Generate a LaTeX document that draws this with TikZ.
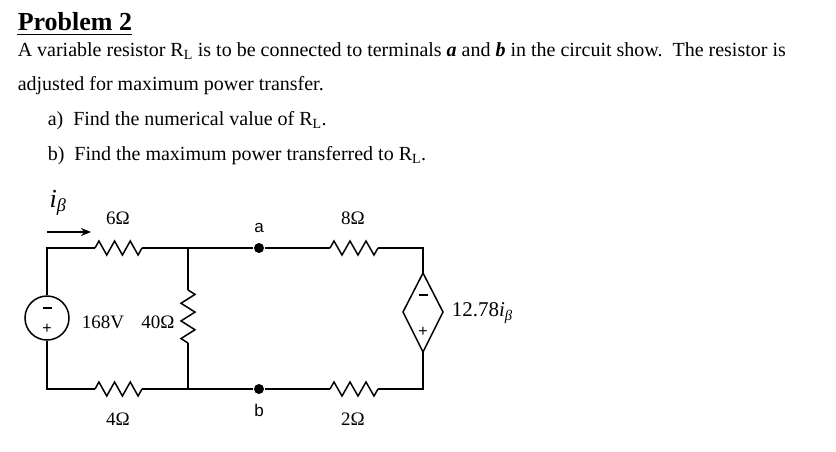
\documentclass[tikz,border=0pt]{standalone}
\usepackage{fontspec}
\setmainfont{Liberation Serif}
\newfontfamily\arialf{Liberation Sans}
\usetikzlibrary{arrows.meta}
\newcommand\hresz[3]{% x1 x2 y
 \draw[line join=miter] (#1,#3) \foreach \k/\s in {1/-1,3/1,5/-1,7/1,9/-1,11/1} {-- ({#1+(#2-#1)*\k/12},{#3+7*\s})} -- (#2,#3);}
\newcommand\vresz[3]{% y1 y2 x
 \draw[line join=miter] (#3,#1) \foreach \k/\s in {1/1,3/-1,5/1,7/-1,9/1,11/-1} {-- ({#3+7*\s},{#1+(#2-#1)*\k/12})} -- (#3,#2);}
\newcommand\ib{\textit{i}\textsubscript{\textit{β}}}
\begin{document}
\begin{tikzpicture}[x=1pt,y=-1pt,line width=1.5pt,
 txt/.style={anchor=base west,inner sep=0pt,font=\fontsize{20}{22}\selectfont},
 lbl/.style={inner sep=0pt,font=\fontsize{19}{22}\selectfont},
 sgn/.style={inner sep=0pt,font=\fontsize{16}{18}\selectfont\arialf},
 term/.style={circle,fill=black,inner sep=0pt,minimum size=10pt}]
\useasboundingbox (0,0) rectangle (836,451);
\node[txt,font=\fontsize{26}{28}\selectfont\bfseries] (t) at (17,30) {Problem 2};
\draw[line width=1pt] (17,34) -- (132,34);
\node[txt] (l1) at (17,56) {A variable resistor R\textsubscript{L} is to be connected to terminals \textbf{\textit{a}} and \textbf{\textit{b}} in the circuit show.\ \ The resistor is};
\node[txt] (l2) at (17,90) {adjusted for maximum power transfer.};
\node[txt] (l3) at (47,125) {a)\ \ Find the numerical value of R\textsubscript{L}.};
\node[txt] (l4) at (47,160) {b)\ \ Find the maximum power transferred to R\textsubscript{L}.};
% circuit
\coordinate (tl) at (47,248); \coordinate (bl) at (47,389);
\coordinate (m1) at (188,248); \coordinate (m2) at (188,389);
\coordinate (tr) at (423,248); \coordinate (br) at (423,389);
\coordinate (r6a) at (95,248); \coordinate (r6b) at (142,248);
\coordinate (r4a) at (95,389); \coordinate (r4b) at (142,389);
\coordinate (r8a) at (330,248); \coordinate (r8b) at (378,248);
\coordinate (r2a) at (330,389); \coordinate (r2b) at (378,389);
\coordinate (r40a) at (188,290); \coordinate (r40b) at (188,343);
\node[term] (a) at (259,248) {}; \node[term] (b) at (259,389) {};
\node[circle,draw,minimum size=44pt,inner sep=0pt] (vs) at (47,318) {};
\node[inner sep=0pt] at (47,308) {\rule{9pt}{1.5pt}};
\node[sgn] at (47,329) {+};
\draw[line join=miter] (423,273) coordinate (dt) -- (443,312) -- (423,352) coordinate (db) -- (403,312) -- cycle;
\node[inner sep=0pt] at (423,295) {\rule{9pt}{1.5pt}};
\node[sgn] at (423,332) {+};
\draw (vs.north) -- (tl) -- (r6a);
\hresz{95}{142}{248}
\draw (r6b) -- (m1) -- (a) -- (r8a);
\hresz{330}{378}{248}
\draw (r8b) -- (tr) -- (dt);
\draw (db) -- (br) -- (r2b);
\hresz{330}{378}{389}
\draw (r2a) -- (b) -- (m2) -- (r4b);
\hresz{95}{142}{389}
\draw (r4a) -- (bl) -- (vs.south);
\draw (m1) -- (r40a); \vresz{290}{343}{188} \draw (r40b) -- (m2);
\node[lbl] at (118,218) {6Ω};
\node[lbl] at (353,218) {8Ω};
\node[lbl] at (118,419) {4Ω};
\node[lbl] at (353,419) {2Ω};
\node[lbl,font=\arialf\fontsize{17}{18}\selectfont] at (259,228) {a};
\node[lbl,font=\arialf\fontsize{17}{18}\selectfont] at (259,410) {b};
\node[lbl] at (103,322) {168V};
\node[lbl] at (158,322) {40Ω};
\node[lbl,anchor=west,font=\fontsize{21}{22}\selectfont] at (451,313) {12.78\ib};
\node[lbl,font=\fontsize{26}{28}\selectfont] at (58,203) {\ib};
\draw[-{Stealth[length=10pt,width=8pt]},line width=1.3pt] (47,232) -- (91,232);
\end{tikzpicture}
\end{document}
